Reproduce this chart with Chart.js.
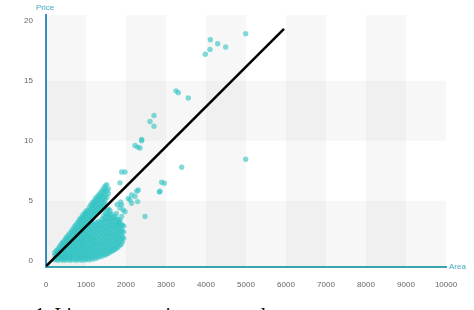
<!DOCTYPE html>
<html>
<head>
<meta charset="utf-8">
<script src="https://cdn.jsdelivr.net/npm/chart.js@4"></script>
<style>
  html, body { margin: 0; padding: 0; background: #fff; overflow: hidden; }
  #wrap { position: relative; width: 474px; height: 310px; overflow: hidden; }
  #box { position: absolute; left: 0; top: 0; width: 474px; height: 290px; }
  #caption {
    position: absolute; left: 35px; top: 304px;
    font: 19.5px "Liberation Serif", "Times New Roman", serif;
    line-height: 22px; color: #000; white-space: nowrap;
  }
</style>
</head>
<body>
<div id="wrap">
  <div id="box"><canvas id="scatterChart"></canvas></div>
  <div id="caption">1. Linear regression scatter plot</div>
</div>
<script>
// --- DATA ---
const xTicks = [0, 1000, 2000, 3000, 4000, 5000, 6000, 7000, 8000, 9000, 10000];
const yTicks = [0, 5, 10, 15, 20];

// dense cluster, read column by column (area -> prices)
const clusterArea = [220, 300, 380, 450, 520, 600, 680, 760, 840, 920, 1000, 1080, 1160, 1240, 1320, 1400, 1480, 1560, 1640, 1720, 1800, 1880, 1940];
const clusterPrice = [
    [0.1, 0.45, 0.7],
    [0.05, 0.35, 0.7, 1.0],
    [0.1, 0.4, 0.75, 1.1, 1.4],
    [0.05, 0.3, 0.6, 0.95, 1.3, 1.65],
    [0.1, 0.4, 0.7, 1.05, 1.4, 1.75, 2.0],
    [0.05, 0.35, 0.65, 1.0, 1.3, 1.65, 1.95, 2.3],
    [0.1, 0.45, 0.8, 1.1, 1.45, 1.8, 2.15, 2.45, 2.7],
    [0.05, 0.35, 0.7, 1.0, 1.35, 1.7, 2.05, 2.4, 2.75, 3.05],
    [0.1, 0.4, 0.75, 1.1, 1.45, 1.8, 2.15, 2.5, 2.85, 3.2, 3.45],
    [0.05, 0.4, 0.7, 1.05, 1.4, 1.75, 2.1, 2.5, 2.85, 3.2, 3.55, 3.8],
    [0.1, 0.45, 0.8, 1.15, 1.5, 1.85, 2.2, 2.55, 2.9, 3.3, 3.65, 3.95, 4.15],
    [0.1, 0.4, 0.75, 1.1, 1.5, 1.85, 2.2, 2.6, 3.0, 3.4, 3.75, 4.1, 4.45],
    [0.15, 0.5, 0.85, 1.2, 1.6, 1.95, 2.3, 2.7, 3.1, 3.6, 3.95, 4.3, 4.6, 4.85],
    [0.2, 0.55, 0.9, 1.3, 1.65, 2.0, 2.4, 2.8, 3.2, 3.85, 4.2, 4.55, 4.9, 5.2],
    [0.3, 0.65, 1.0, 1.4, 1.75, 2.15, 2.55, 2.9, 3.3, 4.1, 4.45, 4.8, 5.15, 5.5],
    [0.4, 0.75, 1.1, 1.5, 1.9, 2.3, 2.7, 3.1, 3.5, 4.4, 4.75, 5.1, 5.45, 5.85],
    [0.5, 0.85, 1.25, 1.65, 2.05, 2.45, 2.85, 3.25, 3.6, 4.0, 4.7, 5.1, 5.5, 5.9, 6.25],
    [0.65, 1.0, 1.4, 1.8, 2.2, 2.6, 3.0, 3.4, 3.8, 4.3, 5.6, 6.0],
    [0.8, 1.15, 1.55, 1.95, 2.35, 2.75, 3.15, 3.55, 3.9],
    [0.95, 1.3, 1.7, 2.1, 2.5, 2.9, 3.3, 3.7],
    [1.15, 1.5, 1.9, 2.3, 2.7, 3.1, 3.45],
    [1.4, 1.8, 2.2, 2.6, 3.0],
    [1.9, 2.4, 2.9]
];

// second pass over the cluster, between the columns above
const clusterArea2 = [260, 340, 415, 485, 560, 640, 720, 800, 880, 960, 1040, 1120, 1200, 1280, 1360, 1440, 1520, 1600, 1680, 1760, 1840, 1910];
const clusterPrice2 = [
    [0.2, 0.55, 0.85],
    [0.2, 0.55, 0.9, 1.2],
    [0.2, 0.55, 0.9, 1.25, 1.55],
    [0.2, 0.45, 0.8, 1.15, 1.5, 1.85],
    [0.25, 0.55, 0.85, 1.2, 1.55, 1.9, 2.15],
    [0.2, 0.5, 0.85, 1.15, 1.5, 1.8, 2.15, 2.5],
    [0.25, 0.6, 0.95, 1.3, 1.6, 2.0, 2.3, 2.6, 2.9],
    [0.2, 0.55, 0.85, 1.2, 1.55, 1.9, 2.25, 2.6, 2.95, 3.25],
    [0.25, 0.6, 0.95, 1.3, 1.65, 2.0, 2.35, 2.7, 3.05, 3.4, 3.6],
    [0.25, 0.55, 0.9, 1.25, 1.6, 1.95, 2.3, 2.7, 3.05, 3.4, 3.75, 3.95],
    [0.25, 0.6, 0.95, 1.3, 1.7, 2.05, 2.4, 2.75, 3.15, 3.5, 3.85, 4.2],
    [0.3, 0.6, 0.95, 1.3, 1.7, 2.05, 2.45, 2.85, 3.2, 3.6, 3.95, 4.3, 4.65],
    [0.35, 0.7, 1.05, 1.45, 1.8, 2.2, 2.6, 3.0, 3.75, 4.05, 4.4, 4.75, 5.0],
    [0.4, 0.75, 1.15, 1.5, 1.9, 2.3, 2.65, 3.05, 4.0, 4.35, 4.7, 5.05, 5.35],
    [0.5, 0.85, 1.25, 1.6, 2.0, 2.4, 2.8, 3.2, 4.25, 4.6, 4.95, 5.3, 5.65],
    [0.55, 0.95, 1.35, 1.75, 2.15, 2.55, 2.95, 3.35, 3.75, 4.55, 4.9, 5.3, 5.7, 6.05],
    [0.6, 1.0, 1.4, 1.8, 2.2, 2.6, 3.0, 3.4, 3.8, 4.2, 5.3, 5.8, 6.35],
    [0.75, 1.1, 1.5, 1.9, 2.3, 2.7, 3.1, 3.5, 3.9, 4.2],
    [0.9, 1.25, 1.65, 2.05, 2.45, 2.85, 3.25, 3.6],
    [1.05, 1.45, 1.85, 2.25, 2.65, 3.05, 3.5, 3.95],
    [1.3, 1.65, 2.05, 2.45, 2.85, 3.25],
    [1.6, 2.0, 2.5, 3.0]
];

// scattered points outside the cluster
const outlierArea = [1780, 1867, 2058, 2142, 2267, 2308, 2142, 2225, 2100, 2292, 1892, 1850, 1933, 1975,
    1892, 1850, 1808, 2475, 1850, 1892, 1975, 2225, 2292, 2350, 2392, 2392, 2600, 2700, 2700,
    2833, 2850, 2892, 2958, 3392, 3250, 3308, 3558, 3983, 4100, 4108, 4292, 4492, 4993, 4993];
const outlierPrice = [4.7, 4.9, 5.2, 4.8, 5.8, 5.9, 5.5, 5.36, 5.08, 4.94, 4.67, 4.4, 4.25, 4.1,
    3.7, 3.4, 3.1, 3.7, 6.5, 7.4, 7.4, 9.6, 9.47, 9.4, 10.0, 10.1, 11.6, 12.1, 11.2,
    5.73, 5.8, 6.55, 6.47, 7.8, 14.15, 14.0, 13.55, 17.2, 17.6, 18.4, 18.07, 17.8, 18.9, 8.46];

// regression line end points
const lineArea = [0, 5950];
const linePrice = [-0.45, 19.3];

document.addEventListener('DOMContentLoaded', () => {
    const ctx = document.getElementById('scatterChart').getContext('2d');

    const points = [];
    clusterArea.forEach((a, i) => {
        clusterPrice[i].forEach(p => points.push({ x: a, y: p }));
    });
    clusterArea2.forEach((a, i) => {
        clusterPrice2[i].forEach(p => points.push({ x: a, y: p }));
    });
    outlierArea.forEach((a, i) => points.push({ x: a, y: outlierPrice[i] }));

    const linePoints = lineArea.map((a, i) => ({ x: a, y: linePrice[i] }));

    // alternating shaded bands behind the points, plus the two axis names
    const bandPlugin = {
        id: 'bands',
        beforeDatasetsDraw(chart) {
            const { ctx, chartArea, scales } = chart;
            ctx.save();
            ctx.fillStyle = 'rgba(0,0,0,0.03)';
            for (let i = 0; i < xTicks.length - 1; i += 2) {
                const x1 = scales.x.getPixelForValue(xTicks[i]);
                const x2 = scales.x.getPixelForValue(xTicks[i + 1]);
                ctx.fillRect(x1, chartArea.top, x2 - x1, chartArea.bottom - chartArea.top);
            }
            const yb = [scales.y.min, 5, 10, 15];
            for (let i = 0; i < yb.length - 1; i += 2) {
                const y1 = scales.y.getPixelForValue(yb[i]);
                const y2 = scales.y.getPixelForValue(yb[i + 1]);
                ctx.fillRect(chartArea.left, y2, chartArea.right - chartArea.left, y1 - y2);
            }
            ctx.restore();
        },
        afterDraw(chart) {
            const { ctx, chartArea } = chart;
            ctx.save();
            ctx.fillStyle = '#3fa9c4';
            ctx.font = '8px "Liberation Sans", Arial, sans-serif';
            ctx.textBaseline = 'middle';
            ctx.textAlign = 'left';
            ctx.fillText('Price', 36, 8);
            ctx.fillText('Area', chartArea.right + 3, chartArea.bottom);
            ctx.restore();
        }
    };

    const tickFont = { size: 8, family: '"Liberation Sans", Arial, sans-serif' };

    new Chart(ctx, {
        type: 'scatter',
        data: {
            datasets: [
                {
                    label: 'Line',
                    type: 'line',
                    data: linePoints,
                    borderColor: '#000',
                    borderWidth: 2.5,
                    pointRadius: 0,
                    fill: false,
                    order: 0
                },
                {
                    label: 'Price',
                    data: points,
                    backgroundColor: 'rgba(52,196,196,0.62)',
                    borderWidth: 0,
                    pointRadius: 2.7,
                    order: 1
                }
            ]
        },
        options: {
            responsive: true,
            maintainAspectRatio: false,
            animation: false,
            layout: { padding: { left: 0, top: 15, right: 28, bottom: 0 } },
            plugins: {
                legend: { display: false },
                tooltip: { enabled: false }
            },
            scales: {
                x: {
                    type: 'linear',
                    min: 0,
                    max: 10000,
                    afterBuildTicks: (scale) => { scale.ticks = xTicks.map(v => ({ value: v })); },
                    afterFit: (scale) => { scale.height = 23.5; },
                    grid: { display: false },
                    border: { display: true, color: '#3aa6b0', width: 2 },
                    ticks: {
                        color: '#666',
                        font: tickFont,
                        padding: 5,
                        maxRotation: 0,
                        autoSkip: false,
                        callback: (v) => String(v)
                    }
                },
                y: {
                    type: 'linear',
                    min: -0.46,
                    max: 20.46,
                    afterBuildTicks: (scale) => { scale.ticks = yTicks.map(v => ({ value: v })); },
                    afterFit: (scale) => { scale.width = 46; },
                    grid: { display: false },
                    border: { display: true, color: '#3a8fc4', width: 2 },
                    ticks: {
                        color: '#666',
                        font: tickFont,
                        padding: 5,
                        autoSkip: false,
                        callback: (v) => String(v)
                    }
                }
            }
        },
        plugins: [bandPlugin]
    });
});
</script>
</body>
</html>
